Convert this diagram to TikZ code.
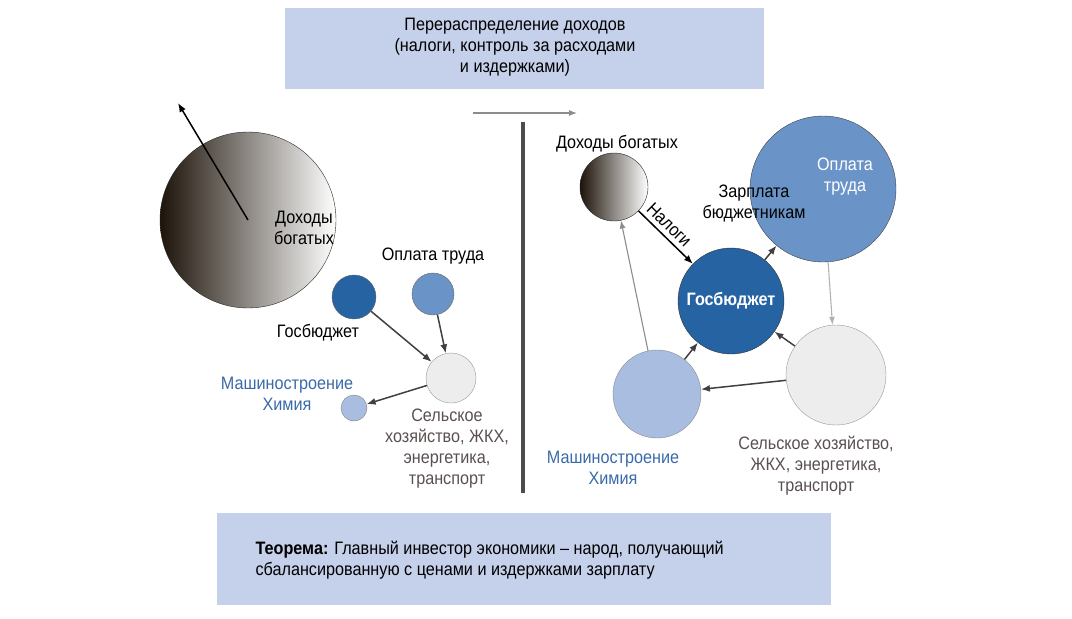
\documentclass[tikz,border=0pt]{standalone}
\usepackage{fontspec}
\setmainfont{Liberation Sans}[FakeStretch=0.9]
\usetikzlibrary{arrows.meta}
\definecolor{panel}{HTML}{C5D0EA}
\definecolor{gbblue}{HTML}{2563A3}
\definecolor{paymid}{HTML}{6A94C8}
\definecolor{mashblue}{HTML}{A8BDE0}
\definecolor{lbltxt}{HTML}{3A6AA8}
\definecolor{graytxt}{HTML}{5A5050}
\tikzset{
  ball/.style={circle,draw=#1,inner sep=0pt},
  rich/.style={ball=black!85,left color=black!85!brown,right color=white},
  lbl/.style={font=\fontsize{18}{21}\selectfont,align=center},
  link/.style={-{Latex[length=9pt,width=7pt]},draw=black!75,line width=1.5pt},
  thin/.style={-{Latex[length=8pt,width=6pt]},draw=black!45,line width=1.1pt}
}
\begin{document}
\begin{tikzpicture}[x=1pt,y=-1pt]
\useasboundingbox (0,0) rectangle (1072,619);
% panels
\fill[panel] (285,8) rectangle (764,89);
\node[lbl] (top) at (515,47) {Перераспределение доходов\\(налоги, контроль за расходами\\и издержками)};
\fill[panel] (217,513) rectangle (831,605);
\node[lbl,align=left,anchor=west] (thm) at (252,560) {\textbf{Теорема:} Главный инвестор экономики -- народ, получающий\\сбалансированную с ценами и издержками зарплату};
\coordinate (ta) at (473,113);
\coordinate (tb) at (577,113);
\draw[thin] (ta) -- (tb);
\coordinate (bara) at (523,122);
\coordinate (barb) at (523,493);
\draw[black!70,line width=4.5pt] (bara) -- (barb);
% left side
\node[rich,minimum size=176pt] (lrich) at (248,220) {};
\node[lbl] at (304,228) {Доходы\\богатых};
\coordinate (lup) at (178,103);
\draw[link,black] (lrich.center) -- (lup);
\node[ball=black!60,fill=gbblue,minimum size=44pt] (lgb) at (354,297) {};
\node[lbl] at (318,333) {Госбюджет};
\node[ball=black!60,fill=paymid,minimum size=42pt] (lpay) at (433,294) {};
\node[lbl] at (433,256) {Оплата труда};
\node[ball=black!40,fill=black!7,minimum size=50pt] (lsx) at (451,378) {};
\node[ball=black!50,fill=mashblue,minimum size=26pt] (lmash) at (354,408) {};
\node[lbl,text=lbltxt] at (287,394) {Машиностроение\\Химия};
\node[lbl,text=graytxt] at (447,449) {Сельское\\хозяйство, ЖКХ,\\энергетика,\\транспорт};
\draw[link] (lgb) -- (lsx);
\draw[link] (lpay) -- (lsx);
\draw[link] (lsx) -- (lmash);
% right side
\node[rich,minimum size=68pt] (rrich) at (614,187) {};
\node[lbl] at (617,144) {Доходы богатых};
\node[ball=black!75,fill=paymid,minimum size=146pt] (rpay) at (823,189) {};
\node[lbl,text=white] at (845,177) {Оплата\\труда};
\node[lbl] at (754,204) {Зарплата\\бюджетникам};
\node[ball=black!80,fill=gbblue,minimum size=106pt] (rgb) at (731,301) {};
\node[lbl,text=white,font=\bfseries\fontsize{18}{21}\selectfont] at (731,301) {Госбюджет};
\node[ball=black!45,fill=mashblue,minimum size=88pt] (rmash) at (657,394) {};
\node[lbl,text=lbltxt] at (613,468) {Машиностроение\\Химия};
\node[ball=black!40,fill=black!7,minimum size=100pt] (rsx) at (836,375) {};
\node[lbl,text=graytxt] at (816,466) {Сельское хозяйство,\\ЖКХ, энергетика,\\транспорт};
\draw[link,black] (rrich) -- node[lbl,pos=0.42,sloped,above=1pt] {Налоги} (rgb);
\draw[thin] (rmash) -- (rrich);
\draw[link] (rgb) -- (rpay);
\draw[thin,black!30] (rpay) -- (rsx);
\draw[link] (rsx) -- (rgb);
\draw[link] (rsx) -- (rmash);
\draw[link] (rmash) -- (rgb);
\end{tikzpicture}
\end{document}
